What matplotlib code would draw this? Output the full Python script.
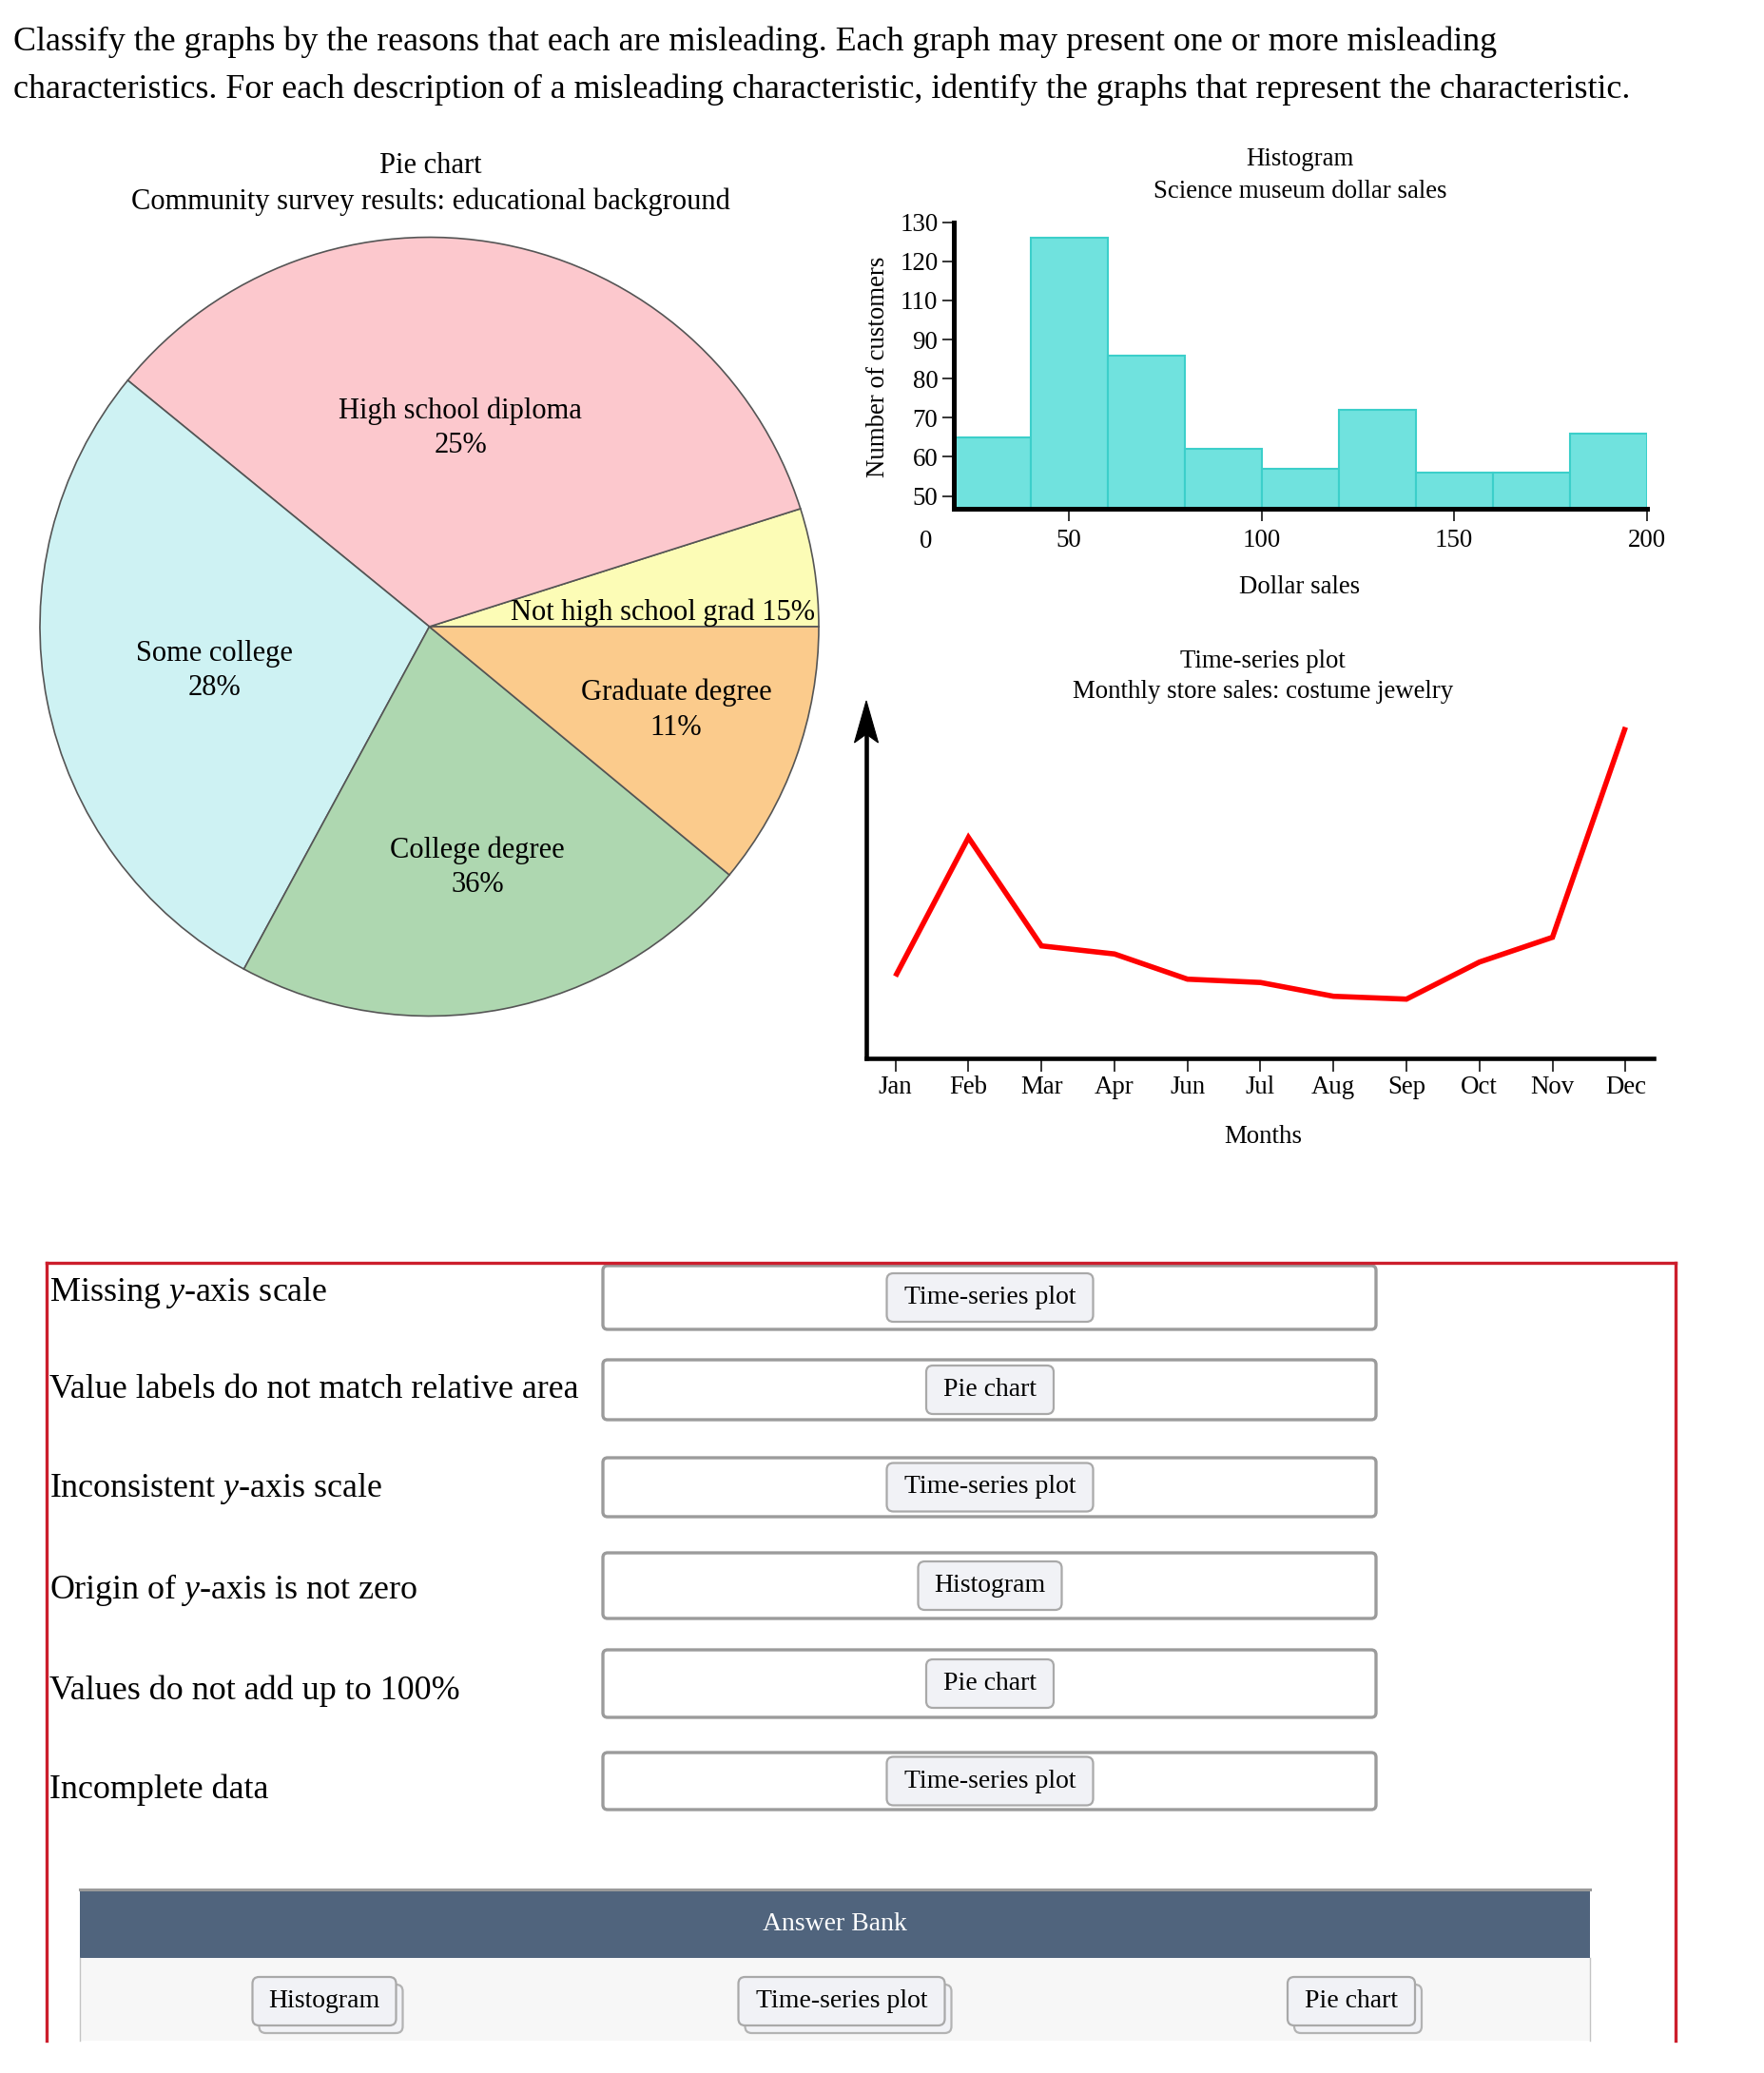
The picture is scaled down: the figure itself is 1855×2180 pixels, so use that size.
import numpy as np
import matplotlib
matplotlib.use("Agg")
import matplotlib.pyplot as plt
from matplotlib.patches import FancyBboxPatch, Rectangle, Polygon
from matplotlib.lines import Line2D

plt.rcParams['font.family'] = ['Liberation Serif', 'DejaVu Serif']
plt.rcParams['mathtext.fontset'] = 'custom'
plt.rcParams['mathtext.rm'] = 'Liberation Serif'
plt.rcParams['mathtext.it'] = 'Liberation Serif:italic'

# ---------------- data ----------------
intro_lines = [
    "Classify the graphs by the reasons that each are misleading. Each graph may present one or more misleading",
    "characteristics. For each description of a misleading characteristic, identify the graphs that represent the characteristic.",
]

pie_title = ["Pie chart", "Community survey results: educational background"]
pie_labels = ["Not high school grad", "High school diploma", "Some college", "College degree", "Graduate degree"]
pie_area_share = [4.9, 34.2, 28.0, 21.9, 11.0]      # share of the circle as drawn
pie_label_pct = [15, 25, 28, 36, 11]                # percentages printed on the chart
pie_colors = ["#fcfcb6", "#fcc8cd", "#cef2f3", "#aed7b0", "#fbcb8c"]

hist_title = ["Histogram", "Science museum dollar sales"]
hist_bin_edges = [20, 40, 60, 80, 100, 120, 140, 160, 180, 200]
hist_counts = [65, 126, 86, 62, 57, 72, 56, 56, 66]
hist_ytick_values = [50, 60, 70, 80, 90, 110, 120, 130]
hist_xticks = [50, 100, 150, 200]

ts_title = ["Time-series plot", "Monthly store sales: costume jewelry"]
months = ["Jan", "Feb", "Mar", "Apr", "Jun", "Jul", "Aug", "Sep", "Oct", "Nov", "Dec"]
monthly_sales = [8.6, 23.2, 11.8, 10.95, 8.3, 7.95, 6.5, 6.2, 10.1, 12.7, 34.8]

characteristics = ["Missing $y$-axis scale", "Value labels do not match relative area",
                   "Inconsistent $y$-axis scale", "Origin of $y$-axis is not zero",
                   "Values do not add up to 100%", "Incomplete data"]
answers = ["Time-series plot", "Pie chart", "Time-series plot", "Histogram", "Pie chart", "Time-series plot"]
answer_bank = ["Histogram", "Time-series plot", "Pie chart"]

# ---------------- figure ----------------
W, H = 1855, 2180
fig = plt.figure(figsize=(W / 100, H / 100), dpi=100)
fig.patch.set_facecolor("white")
bg = fig.add_axes([0, 0, 1, 1])
bg.set_xlim(0, W)
bg.set_ylim(H, 0)
bg.axis("off")


def px_axes(x0, y0, x1, y1):
    return fig.add_axes([x0 / W, 1 - y1 / H, (x1 - x0) / W, (y1 - y0) / H])


FS_MAIN = 25.9
FS_PIE = 22
FS_SMALL = 19.4
FS_BTN = 20

# intro text
bg.text(14, 53, intro_lines[0], fontsize=FS_MAIN, ha="left", va="baseline")
bg.text(14, 103, intro_lines[1], fontsize=FS_MAIN, ha="left", va="baseline")

# ---------------- pie chart ----------------
pc_x, pc_y, pr = 451.5, 659, 409.5
axp = px_axes(pc_x - pr, pc_y - pr, pc_x + pr, pc_y + pr)
wedges, _ = axp.pie(pie_area_share, colors=pie_colors, startangle=0, counterclock=True,
                    radius=1, wedgeprops=dict(edgecolor="#555555", linewidth=1.2))
axp.set_xlim(-1, 1)
axp.set_ylim(-1, 1)
axp.set_aspect("equal")
axp.axis("off")
label_r = [None, 0.521, 0.562, 0.625, 0.667]
label_ang = [None, 81.2, 191.0, 281.4, 341.8]
for i, w in enumerate(wedges):
    if i == 0:
        axp.text(0.99, 0.018, f"{pie_labels[i]} {pie_label_pct[i]}%", fontsize=FS_PIE,
                 ha="right", va="baseline")
    else:
        a = np.deg2rad(label_ang[i])
        axp.text(label_r[i] * np.cos(a), label_r[i] * np.sin(a) - 0.006,
                 f"{pie_labels[i]}\n{pie_label_pct[i]}%", fontsize=FS_PIE,
                 ha="center", va="center", linespacing=1.32)
bg.text(453, 175, pie_title[0], fontsize=FS_PIE, ha="center", va="center")
bg.text(453, 212, pie_title[1], fontsize=FS_PIE, ha="center", va="center")

# ---------------- histogram ----------------
hx0, hx1, hy_top, hy_bot = 1002.5, 1731.6, 233.7, 535.2
axh = px_axes(hx0, hy_top, hx1, hy_bot)
ylow = -0.33
tick_pos = np.arange(len(hist_ytick_values))
bar_tops = np.interp(hist_counts, hist_ytick_values, tick_pos)
axh.bar(hist_bin_edges[:-1], bar_tops - ylow, width=np.diff(hist_bin_edges), bottom=ylow,
        align="edge", color="#70e2de", edgecolor="#3ccfca", linewidth=1.5)
axh.set_xlim(hist_bin_edges[0], hist_bin_edges[-1])
axh.set_ylim(ylow, tick_pos[-1])
for s in ["top", "right"]:
    axh.spines[s].set_visible(False)
for s in ["left", "bottom"]:
    axh.spines[s].set_linewidth(3.6)
    axh.spines[s].set_capstyle("projecting")
axh.set_yticks(tick_pos)
axh.set_yticklabels([str(v) for v in hist_ytick_values])
axh.set_xticks(hist_xticks)
axh.set_xticklabels([str(v) for v in hist_xticks])
axh.tick_params(axis="y", length=8.6, width=1.1, pad=3, labelsize=FS_SMALL)
axh.tick_params(axis="x", length=9, width=1.1, pad=6, labelsize=FS_SMALL)
axh.set_facecolor("none")
bg.text(974, 570, "0", fontsize=FS_SMALL, ha="center", va="center")
bg.text(923, 386, "Number of customers", fontsize=FS_SMALL, ha="center", va="center", rotation=90)
bg.text(1367, 617, "Dollar sales", fontsize=FS_SMALL, ha="center", va="center")
bg.text(1367, 167, hist_title[0], fontsize=FS_SMALL, ha="center", va="center")
bg.text(1367, 201, hist_title[1], fontsize=FS_SMALL, ha="center", va="center")

# ---------------- time series ----------------
tx0, tx1, ty_top, ty_bot = 911, 1738.5, 737, 1112.7
axt = px_axes(tx0, ty_top, tx1, ty_bot)
xs = np.arange(len(months))
axt.plot(xs, monthly_sales, color="#ff0000", lw=4, solid_joinstyle="miter", solid_capstyle="butt")
axt.set_xlim(-0.399, 10.38)
axt.set_ylim(0, (ty_bot - ty_top) / 10)
for s in ["top", "right", "left"]:
    axt.spines[s].set_visible(False)
axt.spines["bottom"].set_linewidth(3.3)
axt.set_xticks(xs)
axt.set_xticklabels(months)
axt.set_yticks([])
axt.tick_params(axis="x", length=10, width=1.1, pad=3.5, labelsize=FS_SMALL)
axt.set_facecolor("none")
# y-axis arrow (no scale)
bg.add_line(Line2D([tx0, tx0], [ty_bot + 2, ty_top + 30], color="black", lw=3.3, solid_capstyle="butt"))
bg.add_patch(Polygon([(tx0, ty_top), (tx0 - 12.5, ty_top + 44), (tx0, ty_top + 35), (tx0 + 12.5, ty_top + 44)],
                     closed=True, fc="black", ec="black", lw=0.8))
bg.text(1328, 1195, "Months", fontsize=FS_SMALL, ha="center", va="center")
bg.text(1328, 695, ts_title[0], fontsize=FS_SMALL, ha="center", va="center")
bg.text(1328, 727, ts_title[1], fontsize=FS_SMALL, ha="center", va="center")

# ---------------- question area ----------------
red = "#cc1e2c"
rx0, rx1, ry0, ry1 = 49, 1762, 1328, 2146
bg.add_line(Line2D([rx0, rx1], [ry0, ry0], color=red, lw=2.4))
bg.add_line(Line2D([rx0, rx0], [ry0, ry1], color=red, lw=2.4))
bg.add_line(Line2D([rx1, rx1], [ry0, ry1], color=red, lw=2.4))

btn_w = {"Time-series plot": 217, "Pie chart": 134, "Histogram": 151}
btn_h = 51


def button(cx, cy, text, shadow=False):
    w = btn_w[text]
    if shadow:
        bg.add_patch(FancyBboxPatch((cx - w / 2 + 7, cy - btn_h / 2 + 8), w, btn_h,
                                    boxstyle="round,pad=0,rounding_size=7",
                                    fc="#f1f2f6", ec="#b3b3b3", lw=1.6))
    bg.add_patch(FancyBboxPatch((cx - w / 2, cy - btn_h / 2), w, btn_h,
                                boxstyle="round,pad=0,rounding_size=7",
                                fc="#f1f2f6", ec="#a9a9a9", lw=1.6))
    bg.text(cx, cy, text, fontsize=FS_BTN, ha="center", va="center")


row_text_y = [1359, 1461, 1566, 1672, 1778, 1882]
box_y = [(1331, 1398), (1430, 1493), (1533, 1595), (1633, 1702), (1735, 1806), (1843, 1903)]
bx0, bx1 = 634, 1447
for i, (lab, ans) in enumerate(zip(characteristics, answers)):
    bg.text(52, row_text_y[i], lab, fontsize=FS_MAIN, ha="left", va="center")
    y0, y1 = box_y[i]
    bg.add_patch(FancyBboxPatch((bx0, y0), bx1 - bx0, y1 - y0,
                                boxstyle="round,pad=0,rounding_size=5",
                                fc="white", ec="#9b9b9b", lw=2.4))
    button(1041, (y0 + y1) / 2, ans)

# answer bank
ax0, ax1 = 83.5, 1672
hy0, hy1 = 1987, 2059
bg.add_patch(Rectangle((ax0, hy1), ax1 - ax0, ry1 - hy1, fc="#f7f7f7", ec="none"))
bg.add_line(Line2D([ax0, ax0], [hy1, ry1], color="#c4c4c4", lw=1))
bg.add_line(Line2D([ax1, ax1], [hy1, ry1], color="#c4c4c4", lw=1))
bg.add_patch(Rectangle((ax0, hy0), ax1 - ax0, hy1 - hy0, fc="#50647d", ec="none"))
bg.add_line(Line2D([ax0, ax1], [hy0, hy0], color="#9a9a9a", lw=2.2))
bg.text((ax0 + ax1) / 2, 2023, "Answer Bank", fontsize=FS_BTN, color="white", ha="center", va="center")
bank_cx = [341, 885, 1421]
for cx, lab in zip(bank_cx, answer_bank):
    button(cx, 2104.5, lab, shadow=True)

fig.savefig("out.png", dpi=100)
